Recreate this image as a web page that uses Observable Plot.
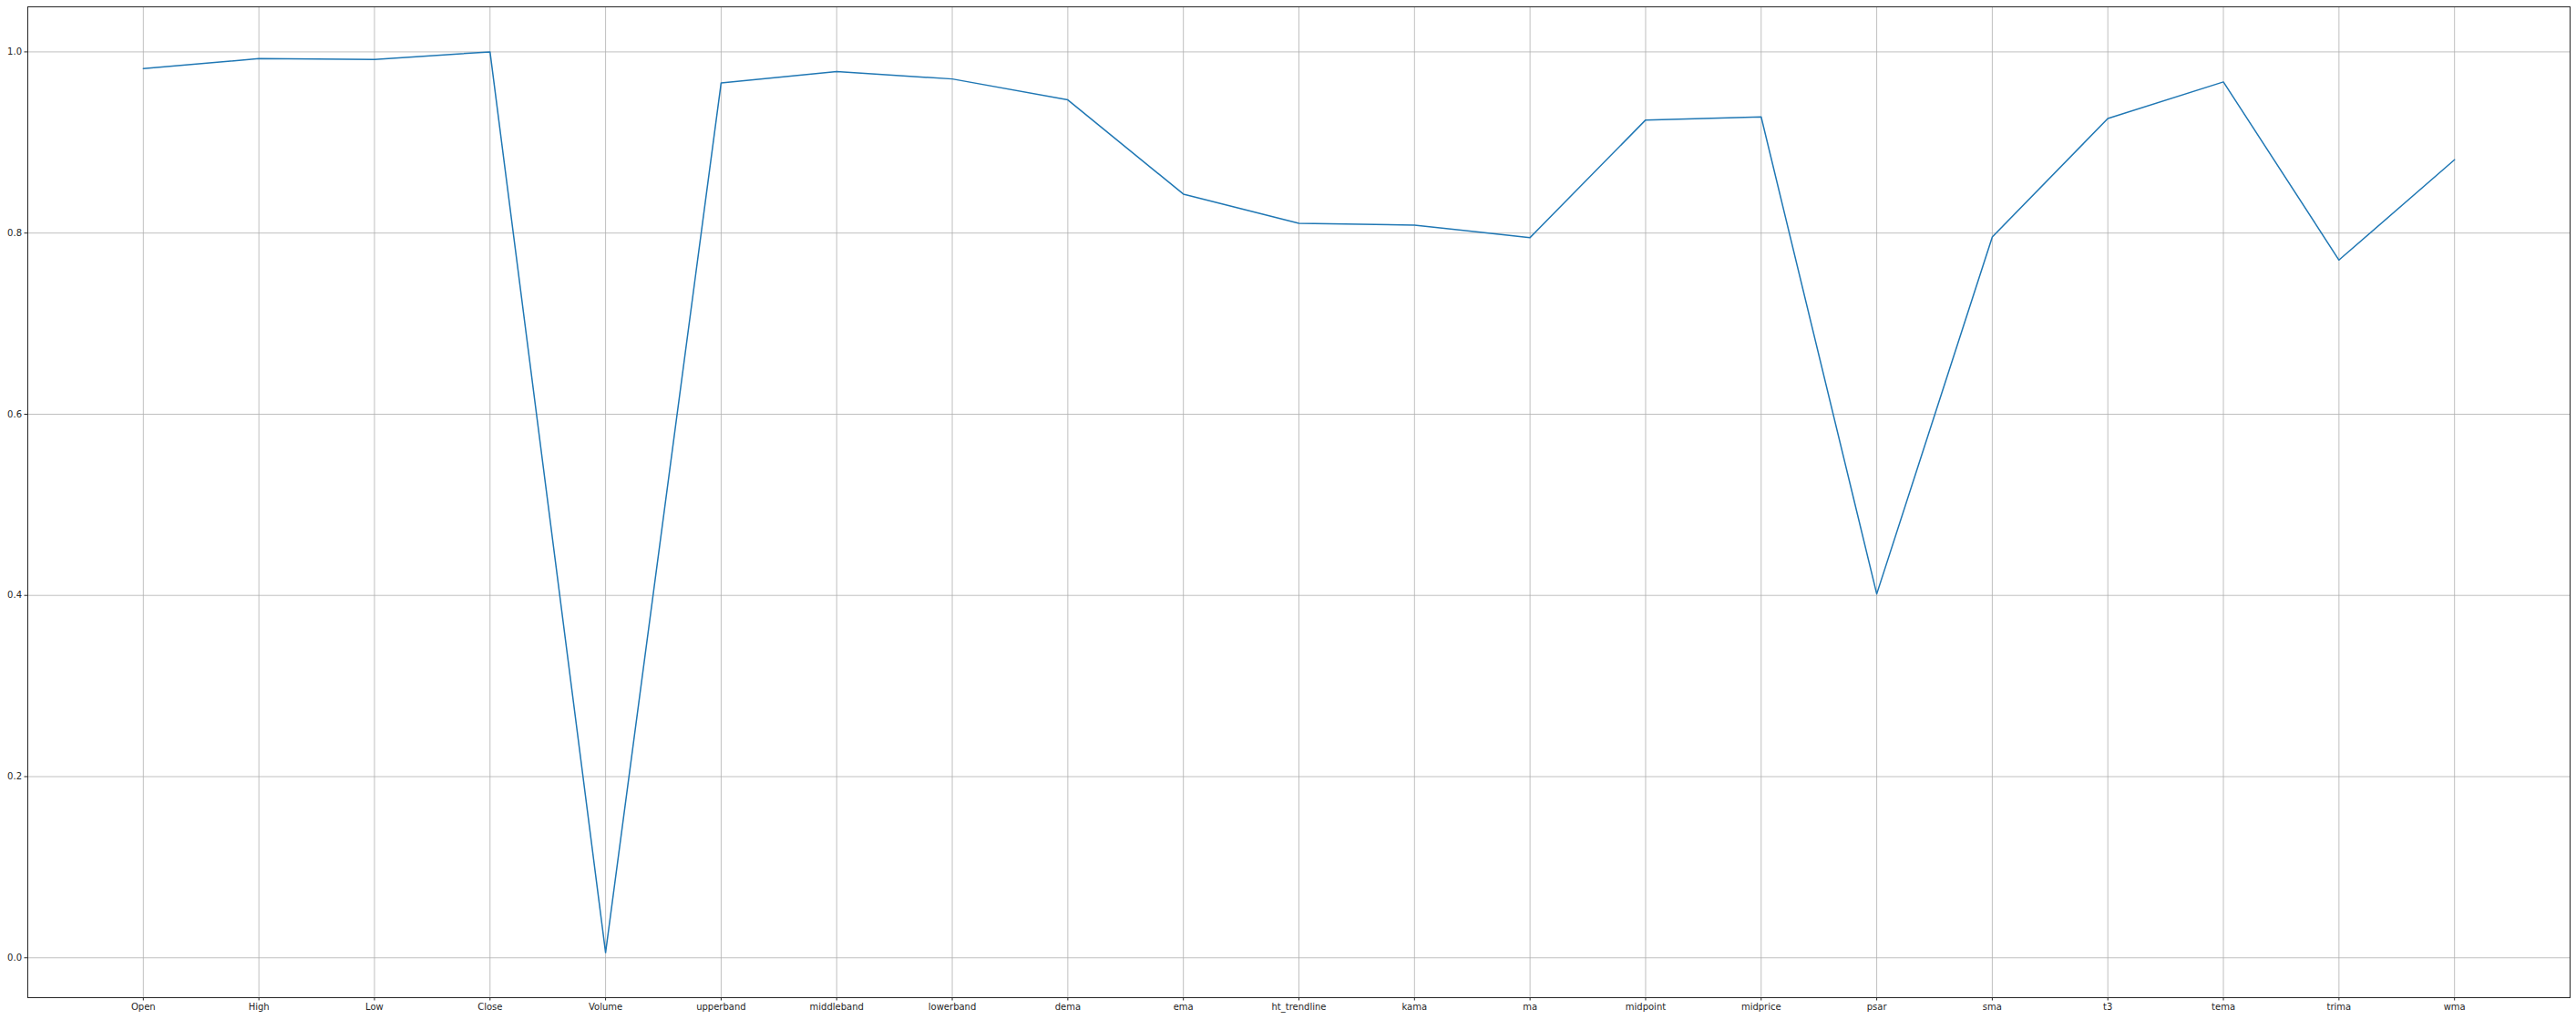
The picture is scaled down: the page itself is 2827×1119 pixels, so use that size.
<!DOCTYPE html>
<html>
<head>
<meta charset="utf-8">
<script src="https://cdn.jsdelivr.net/npm/d3@7"></script>
<script src="https://cdn.jsdelivr.net/npm/@observablehq/plot@0.6"></script>
<style>
  html, body { margin: 0; padding: 0; background: #ffffff; }
  #chart svg { display: block; }
</style>
</head>
<body>
<div id="chart"></div>
<script>
const categories = ["Open", "High", "Low", "Close", "Volume", "upperband", "middleband", "lowerband", "dema", "ema", "ht_trendline", "kama", "ma", "midpoint", "midprice", "psar", "sma", "t3", "tema", "trima", "wma"];
const values = [0.9815, 0.9926, 0.9916, 1.0, 0.0057, 0.9658, 0.9782, 0.9701, 0.9470, 0.8430, 0.8108, 0.8088, 0.7950, 0.9248, 0.9282, 0.4016, 0.7957, 0.9265, 0.9668, 0.7702, 0.8809];
const yTicks = [0.0, 0.2, 0.4, 0.6, 0.8, 1.0];

const data = categories.map((name, i) => ({name, value: values[i]}));
const [lo, hi] = d3.extent(values);
const pad = (hi - lo) * 0.05;

const chart = Plot.plot({
  width: 2827,
  height: 1119,
  marginLeft: 30,
  marginRight: 7,
  marginTop: 7,
  marginBottom: 25,
  style: {fontFamily: "DejaVu Sans", fontSize: "10px", background: "#ffffff", color: "#262626", overflow: "visible"},
  x: {type: "point", domain: categories, padding: 1, round: false, label: null},
  y: {domain: [lo - pad, hi + pad], label: null},
  marks: [
    Plot.gridX(categories, {stroke: "#b0b0b0", strokeOpacity: 1, strokeWidth: 0.8}),
    Plot.gridY(yTicks, {stroke: "#b0b0b0", strokeOpacity: 1, strokeWidth: 0.8}),
    Plot.line(data, {x: "name", y: "value", stroke: "#1f77b4", strokeWidth: 1.5}),
    Plot.axisX(categories, {tickSize: 3.5, tickPadding: 3, label: null, stroke: "#262626"}),
    Plot.axisY(yTicks, {tickFormat: d => d.toFixed(1), tickSize: 3.5, tickPadding: 3, label: null, stroke: "#262626"}),
    Plot.frame({stroke: "#262626", strokeWidth: 1})
  ]
});
document.getElementById("chart").appendChild(chart);
</script>
</body>
</html>
